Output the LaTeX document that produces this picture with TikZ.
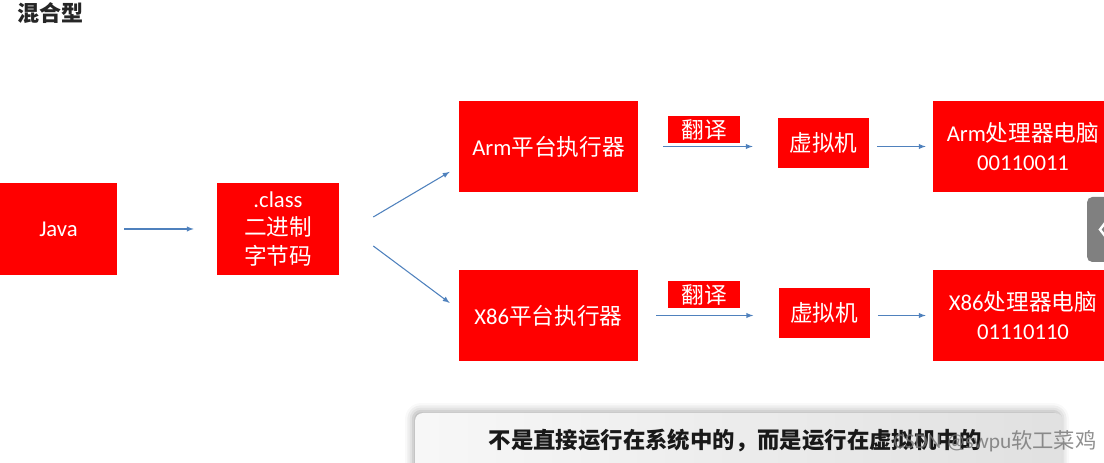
\documentclass[tikz,border=0pt]{standalone}
\usepackage{fontspec}
\setmainfont{Carlito}
\newfontfamily\cjk{Noto Sans CJK SC}
\usetikzlibrary{shadows.blur}
\definecolor{boxred}{HTML}{FF0000}
\definecolor{flowblue}{HTML}{4F81BD}
\definecolor{tabgray}{HTML}{808080}
\begin{document}
\begin{tikzpicture}[x=0.75pt,y=-0.75pt,
  redbox/.style={fill=boxred,text=white,inner sep=0pt,align=center,
    font=\fontsize{17}{21.5}\selectfont},
  tag/.style={redbox,minimum width=54pt,minimum height=20.25pt},
  flow/.style={draw=flowblue,line width=0.8pt,-latex}]
\useasboundingbox (0,0) rectangle (1104,463);
\node[anchor=west,text=black!85,font=\cjk\bfseries\fontsize{16.5}{20}\selectfont] (title) at (13,13) {混合型};
% boxes
\node[redbox,minimum width=87.75pt,minimum height=69pt] (java) at (58.5,229) {Java};
\node[redbox,minimum width=91.5pt,minimum height=69pt] (class) at (278,229) {.class\\{\cjk 二进制}\\{\cjk 字节码}};
\node[redbox,minimum width=134.25pt,minimum height=68.25pt] (arm) at (548.5,146.5) {Arm{\cjk 平台执行器}};
\node[redbox,minimum width=134.25pt,minimum height=68.25pt] (x86) at (548.5,315.5) {X86{\cjk 平台执行器}};
\node[tag] (tr1) at (704,129.5) {\cjk 翻译};
\node[tag] (tr2) at (704,295) {\cjk 翻译};
\node[redbox,minimum width=68.25pt,minimum height=37.5pt] (vm1) at (823.5,143) {\cjk 虚拟机};
\node[redbox,minimum width=68.25pt,minimum height=37.5pt] (vm2) at (824,313) {\cjk 虚拟机};
\node[redbox,minimum width=135pt,minimum height=68.25pt] (pc1) at (1023,146.5) {Arm{\cjk 处理器电脑}\\00110011};
\node[redbox,minimum width=135pt,minimum height=68.25pt] (pc2) at (1023,315.5) {X86{\cjk 处理器电脑}\\01110110};
% arrows
\draw[flow] ([xshift=5.25pt]java.east) -- ([xshift=-17.25pt]class.west);
\draw[flow] ([xshift=25.5pt,yshift=9pt]class.east) -- ([xshift=-6.75pt,yshift=-19pt]arm.west);
\draw[flow] ([xshift=25.5pt,yshift=-12.75pt]class.east) -- ([xshift=-6.75pt,yshift=9.4pt]x86.west);
\draw[flow] ([xshift=18.75pt]arm.east) -- ([xshift=-18.75pt]arm.east -| vm1.west);
\draw[flow] ([xshift=13.5pt]x86.east) -- ([xshift=-18.75pt]x86.east -| vm2.west);
\draw[flow] ([xshift=6pt]vm1.east |- pc1.west) -- ([xshift=-5.25pt]pc1.west);
\draw[flow] ([xshift=6pt]vm2.east |- pc2.west) -- ([xshift=-5.25pt]pc2.west);
% side tab
\fill[tabgray,rounded corners=4pt] (1087,197) rectangle (1114,262);
\draw[white,line width=1.8pt] (1105,223) -- (1100,229.5) -- (1105,236);
% caption panel
\path[left color=black!3,right color=black!12,rounded corners=6pt,
  blur shadow={shadow xshift=-1.5pt,shadow yshift=1.5pt,shadow blur radius=6pt,shadow opacity=35}]
  (415,413) rectangle (1063,490);
\node[text=black!90,font=\cjk\bfseries\fontsize{16.8}{20}\selectfont] (note) at (735,441) {不是直接运行在系统中的，而是运行在虚拟机中的};
\node[text=black!55,opacity=0.8,font=\fontsize{16}{20}\selectfont] (mark) at (995,441) {CSDN @swpu{\cjk 软工菜鸡}};
\end{tikzpicture}
\end{document}
